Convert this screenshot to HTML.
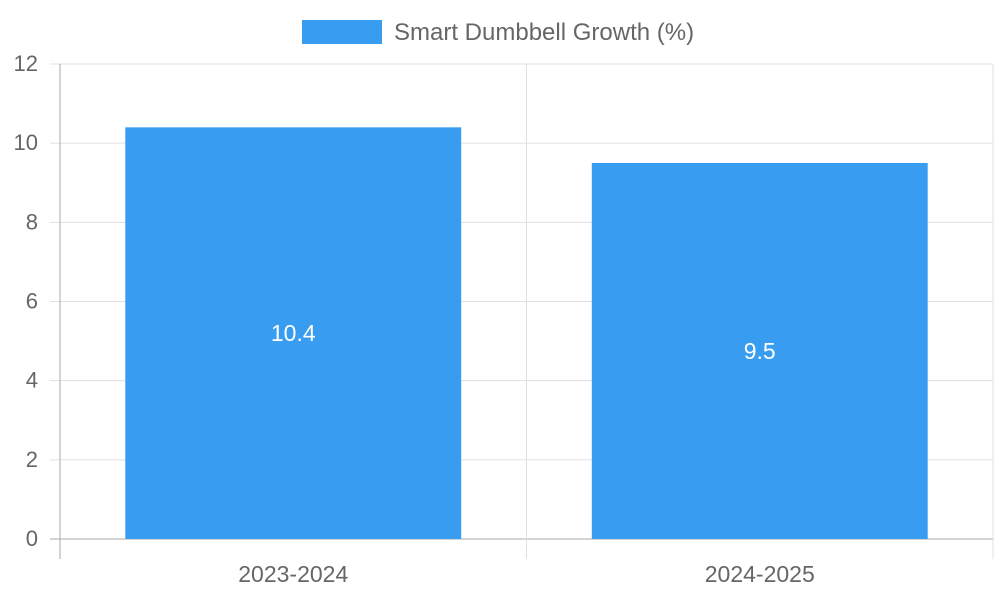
<!DOCTYPE html>
<html><head><meta charset="utf-8">
<style>
html,body{margin:0;padding:0;background:#fff;}
svg{display:block;font-family:"Liberation Sans",sans-serif;}
</style></head>
<body>
<svg id="chart" width="1000" height="600">
  <g id="grid"></g>
  <g id="bars"></g>
  <g id="axes"></g>
  <g>
    <rect x="302" y="20" width="80" height="24" fill="#389cf0"/>
    <text x="394" y="40" font-size="24" fill="#666">Smart Dumbbell Growth (%)</text>
  </g>
</svg>
<script>
const categories = ["2023-2024", "2024-2025"];
const values = [10.4, 9.5];
const yTicks = [0, 2, 4, 6, 8, 10, 12];

const NS = "http://www.w3.org/2000/svg";
const plotLeft = 60, plotRight = 993, plotTop = 64, plotBottom = 539, yMax = 12;
const yScale = v => plotBottom - (v / yMax) * (plotBottom - plotTop);
const bandW = (plotRight - plotLeft) / categories.length;
const xCenter = i => plotLeft + bandW * (i + 0.5);
const barW = bandW * 0.72;

function mk(tag, attrs, parent) {
  const el = document.createElementNS(NS, tag);
  for (const k in attrs) el.setAttribute(k, attrs[k]);
  parent.appendChild(el);
  return el;
}
const grid = document.getElementById("grid");
const bars = document.getElementById("bars");
const axes = document.getElementById("axes");

yTicks.forEach(t => {
  const y = yScale(t);
  const l = mk("line", {x1: plotLeft - 10, x2: plotRight, y1: y, y2: y, stroke: t === 0 ? "#aaa" : "#e0e0e0", "stroke-width": 1}, grid);
  
  
  const tx = mk("text", {x: plotLeft - 22, y: y + 7, "text-anchor": "end", "font-size": 22, fill: "#666"}, axes);
  tx.textContent = t;
  
  
});
for (let i = 0; i <= categories.length; i++) {
  const x = plotLeft + bandW * i;
  const l = mk("line", {x1: x, x2: x, y1: plotTop, y2: plotBottom + 20, stroke: i === 0 ? "#aaa" : "#e0e0e0", "stroke-width": 1}, grid);
  
  
}
categories.forEach((c, i) => {
  const v = values[i];
  const r = mk("rect", {x: xCenter(i) - barW / 2, y: yScale(v), width: barW, height: yScale(0) - yScale(v), fill: "#389cf0"}, bars);
  
  
  const lbl = mk("text", {x: xCenter(i), y: (yScale(v) + yScale(0)) / 2 + 8, "text-anchor": "middle", "font-size": 23, fill: "#fff"}, bars);
  lbl.textContent = v;
  
  
  const xl = mk("text", {x: xCenter(i), y: 582, "text-anchor": "middle", "font-size": 23, fill: "#666"}, axes);
  xl.textContent = c;
  
  
});
</script>
</body></html>
